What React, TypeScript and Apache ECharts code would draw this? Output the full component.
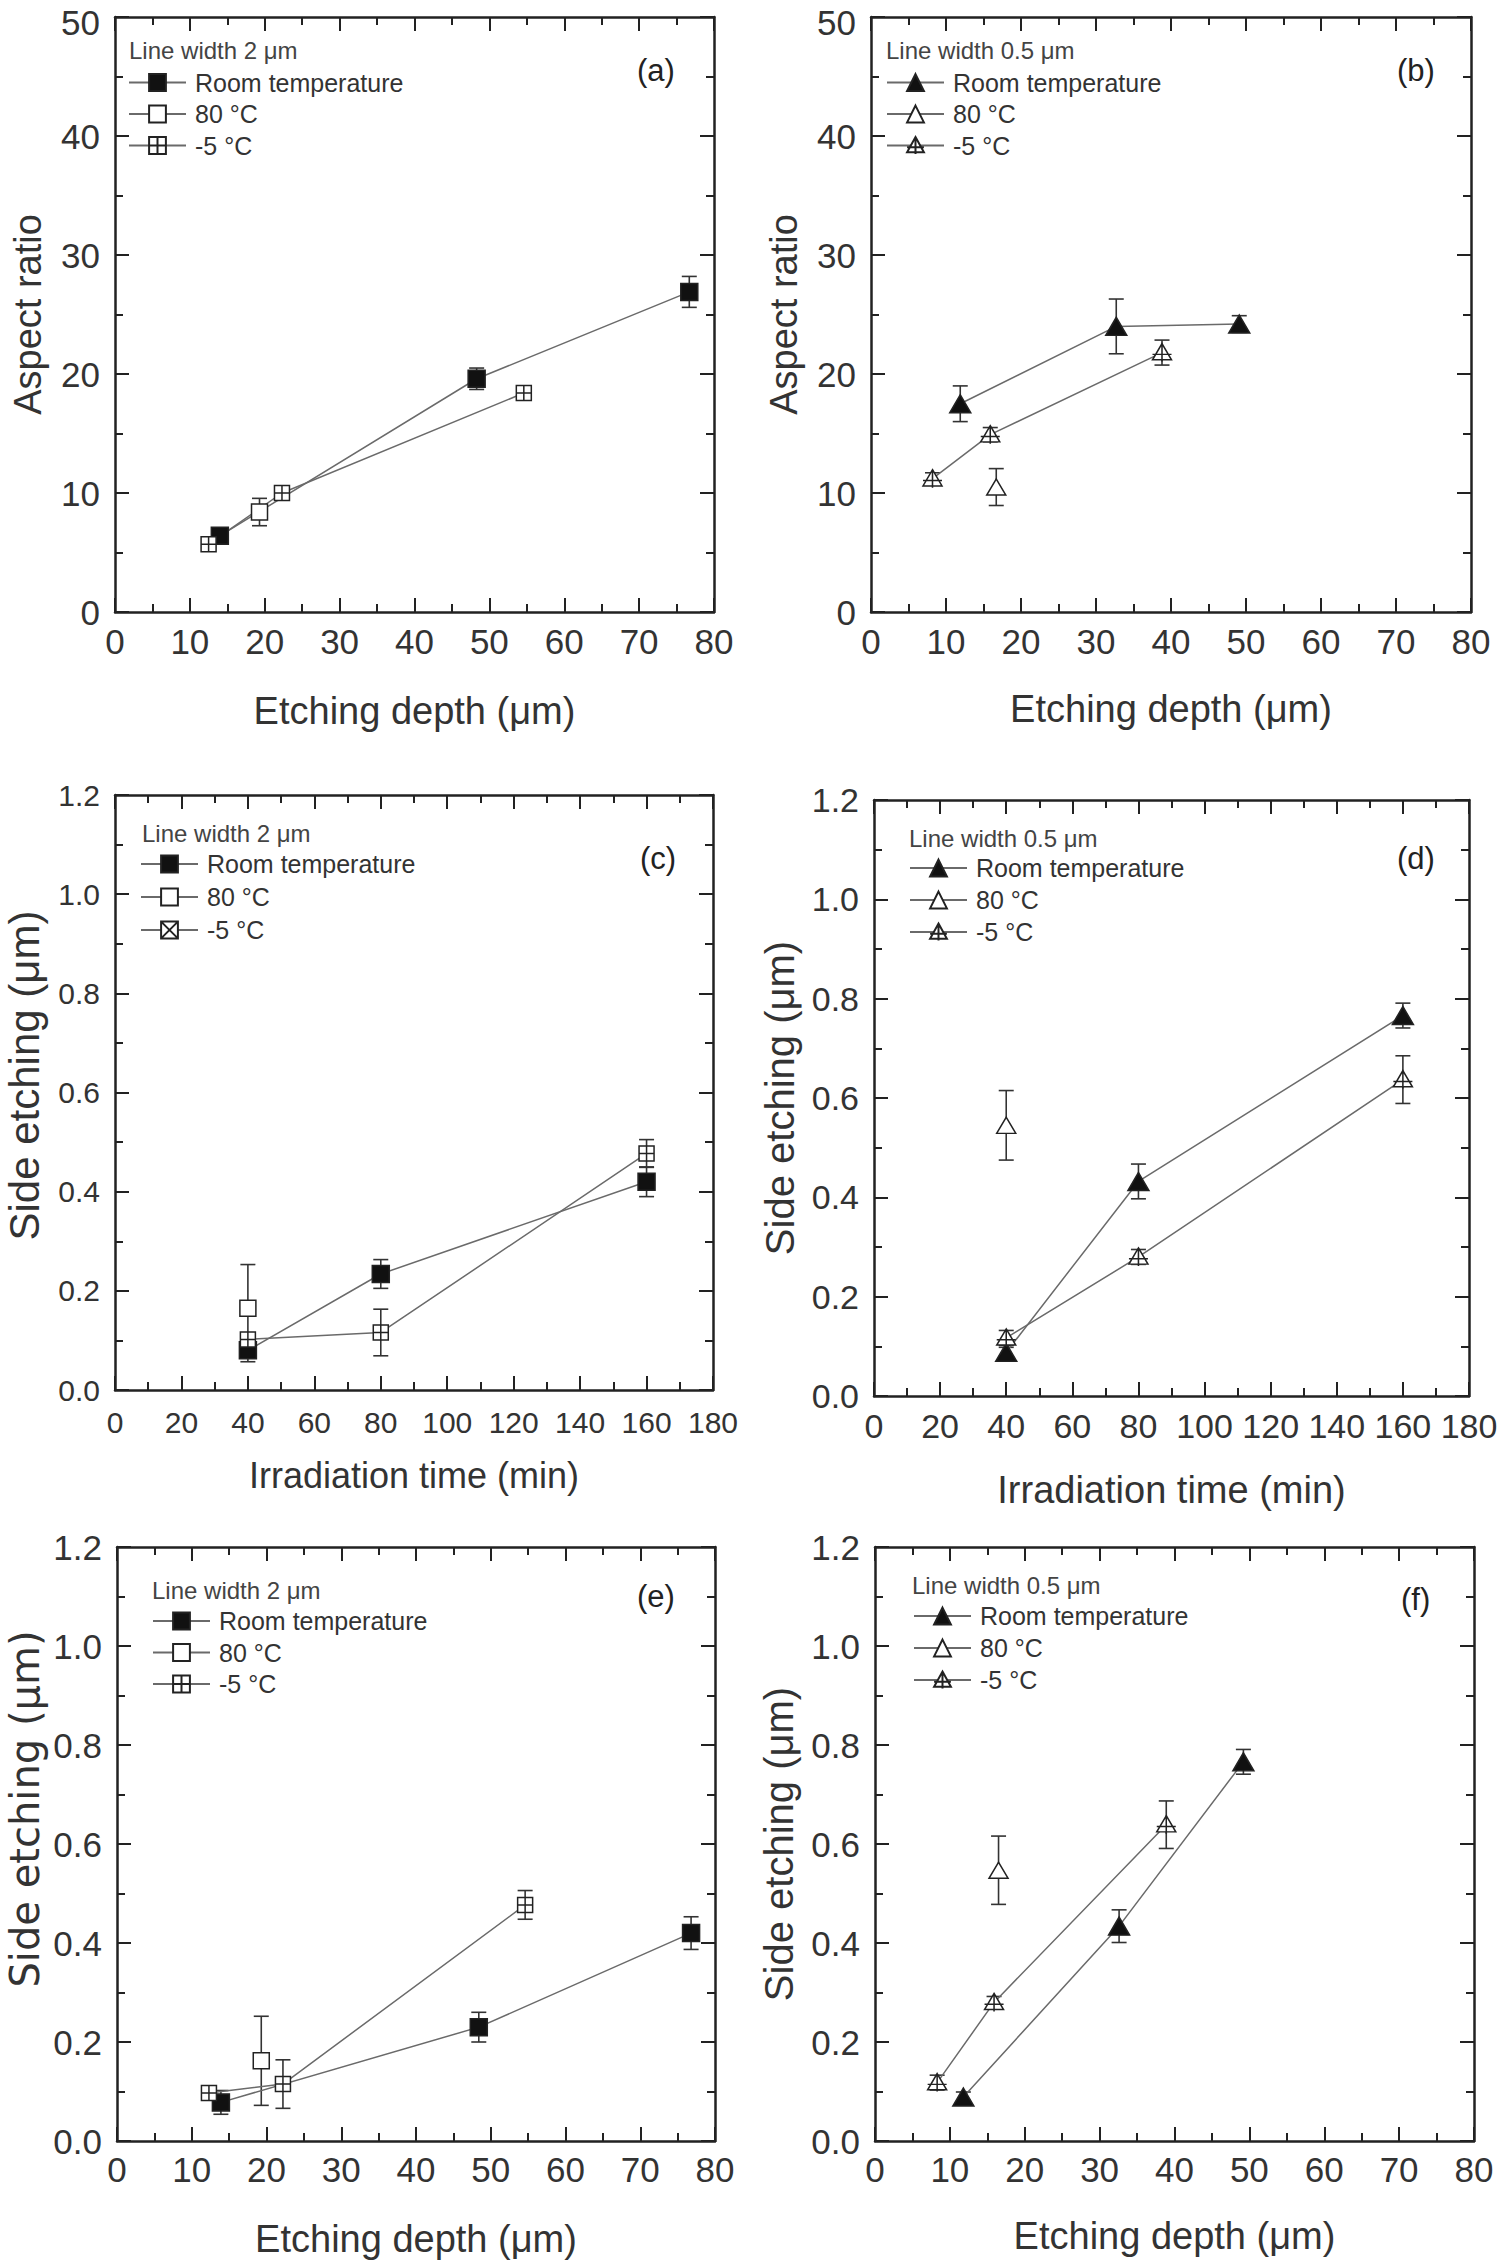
import React, { useEffect, useRef } from "react";
import * as echarts from "echarts";

type Pt = [number, number, number]; // [x, y, error]

// (a) Aspect ratio vs etching depth, line width 2 µm
const aRoom: Pt[] = [[14.0, 6.4, 0.3], [48.3, 19.6, 0.9], [76.7, 26.9, 1.3]];
const aHot: Pt[] = [[19.3, 8.4, 1.15]];
const aCold: Pt[] = [[12.5, 5.7, 0.3], [22.3, 10.0, 0.3], [54.6, 18.4, 0.3]];
// (b) Aspect ratio vs etching depth, line width 0.5 µm
const bRoom: Pt[] = [[11.9, 17.5, 1.5], [32.7, 24.0, 2.3], [49.1, 24.2, 0.7]];
const bHot: Pt[] = [[16.7, 10.5, 1.55]];
const bCold: Pt[] = [[8.2, 11.2, 0.5], [15.9, 14.9, 0.6], [38.8, 21.8, 1.05]];
// (c) Side etching vs irradiation time, line width 2 µm
const cRoom: Pt[] = [[40, 0.08, 0.023], [80, 0.234, 0.029], [160, 0.42, 0.03]];
const cHot: Pt[] = [[40, 0.165, 0.088]];
const cCold: Pt[] = [[40, 0.102, 0.01], [80, 0.116, 0.047], [160, 0.477, 0.028]];
// (d) Side etching vs irradiation time, line width 0.5 µm
const dRoom: Pt[] = [[40, 0.088, 0.01], [80, 0.432, 0.035], [160, 0.766, 0.025]];
const dHot: Pt[] = [[40, 0.545, 0.07]];
const dCold: Pt[] = [[40, 0.117, 0.015], [80, 0.28, 0.015], [160, 0.637, 0.048]];
// (e) Side etching vs etching depth, line width 2 µm
const eRoom: Pt[] = [[13.9, 0.078, 0.024], [48.4, 0.23, 0.03], [76.8, 0.42, 0.033]];
const eHot: Pt[] = [[19.3, 0.162, 0.09]];
const eCold: Pt[] = [[12.3, 0.097, 0.008], [22.2, 0.115, 0.049], [54.6, 0.477, 0.029]];
// (f) Side etching vs etching depth, line width 0.5 µm
const fRoom: Pt[] = [[11.8, 0.089, 0.01], [32.6, 0.434, 0.033], [49.2, 0.766, 0.025]];
const fHot: Pt[] = [[16.5, 0.547, 0.069]];
const fCold: Pt[] = [[8.3, 0.118, 0.015], [15.9, 0.28, 0.012], [38.9, 0.639, 0.048]];

const seriesNames = ["Room temperature", "80 °C", "-5 °C"];
const depthAxis = { min: 0, max: 80, interval: 10 };
const timeAxis = { min: 0, max: 180, interval: 20 };
const aspectAxis = { min: 0, max: 50, interval: 10 };
const sideAxis = { min: 0, max: 1.2, interval: 0.2 };

const FONT = "'Liberation Sans', Arial, Helvetica, sans-serif";
const WIDE_FONT = "'DejaVu Sans', 'Liberation Sans', sans-serif";
const INK = "#222";
const TXT = "#333";
const LINE = "#6a6a6a";

const SQ_PLUS = "path://M0,0H10V10H0Z M5,0V10 M0,5H10";
const SQ_X = "path://M0,0H10V10H0Z M0,0L10,10 M10,0L0,10";
const TRI_PLUS = "path://M5,0L10,9H0Z M5,0V10 M0,6H10";

type Style = { symbol: string; fill: string; size: number | number[]; pointSymbol?: string };
const squareStyles: Style[] = [
  { symbol: "rect", fill: "#111", size: 17 },
  { symbol: "rect", fill: "#fff", size: 16 },
  { symbol: SQ_PLUS, fill: "#fff", size: 15 },
];
const squareStylesC: Style[] = [
  { symbol: "rect", fill: "#111", size: 17 },
  { symbol: "rect", fill: "#fff", size: 16 },
  { symbol: SQ_X, fill: "#fff", size: 15, pointSymbol: SQ_PLUS },
];
const triStyles: Style[] = [
  { symbol: "triangle", fill: "#111", size: [21, 18] },
  { symbol: "triangle", fill: "#fff", size: [19, 16] },
  { symbol: TRI_PLUS, fill: "#fff", size: [19, 18] },
];

type Panel = {
  key: string;
  grid: { left: number; top: number; width: number; height: number };
  x: { min: number; max: number; interval: number };
  y: { min: number; max: number; interval: number };
  yFixed: boolean;
  xName: string;
  yName: string;
  xNameGap: number;
  yNameGap: number;
  yNameShift: number;
  yNameFont: string;
  xNameSize: number;
  yNameSize: number;
  tickSize: number;
  xMargin: number;
  topLabelDrop: number;
  header: string;
  headerPos: [number, number];
  tagPos: [number, number];
  legendPos: [number, number];
  legendGap: number;
  styles: Style[];
  data: Pt[][];
};

const panels: Panel[] = [
  {
    key: "a", grid: { left: 115, top: 17, width: 599, height: 595 }, x: depthAxis, y: aspectAxis, yFixed: false,
    xName: "Etching depth (μm)", yName: "Aspect ratio", xNameGap: 80, yNameGap: 68, yNameShift: 0, yNameFont: FONT,
    xNameSize: 38, yNameSize: 38, topLabelDrop: 10,
    tickSize: 35, xMargin: 12, header: "Line width 2 μm", headerPos: [129, 38], tagPos: [637, 55],
    legendPos: [128, 70], legendGap: 6.5, styles: squareStyles, data: [aRoom, aHot, aCold],
  },
  {
    key: "b", grid: { left: 871, top: 17, width: 600, height: 595 }, x: depthAxis, y: aspectAxis, yFixed: false,
    xName: "Etching depth (μm)", yName: "Aspect ratio", xNameGap: 78, yNameGap: 68, yNameShift: 0, yNameFont: FONT,
    xNameSize: 38, yNameSize: 38, topLabelDrop: 10,
    tickSize: 35, xMargin: 12, header: "Line width 0.5 μm", headerPos: [886, 38], tagPos: [1397, 55],
    legendPos: [886, 70], legendGap: 6.5, styles: triStyles, data: [bRoom, bHot, bCold],
  },
  {
    key: "c", grid: { left: 115, top: 795, width: 598, height: 595 }, x: timeAxis, y: sideAxis, yFixed: true,
    xName: "Irradiation time (min)", yName: "Side etching (μm)", xNameGap: 67, yNameGap: 70, yNameShift: 34, yNameFont: FONT,
    xNameSize: 36, yNameSize: 42, topLabelDrop: 0,
    tickSize: 30, xMargin: 17, header: "Line width 2 μm", headerPos: [142, 821], tagPos: [640, 843],
    legendPos: [140, 851.5], legendGap: 8, styles: squareStylesC, data: [cRoom, cHot, cCold],
  },
  {
    key: "d", grid: { left: 874, top: 800, width: 595, height: 596 }, x: timeAxis, y: sideAxis, yFixed: true,
    xName: "Irradiation time (min)", yName: "Side etching (μm)", xNameGap: 75, yNameGap: 74, yNameShift: 0, yNameFont: FONT,
    xNameSize: 38, yNameSize: 40, topLabelDrop: 0,
    tickSize: 34, xMargin: 13, header: "Line width 0.5 μm", headerPos: [909, 826], tagPos: [1397, 843],
    legendPos: [909, 855.5], legendGap: 7, styles: triStyles, data: [dRoom, dHot, dCold],
  },
  {
    key: "e", grid: { left: 117, top: 1547, width: 598, height: 594 }, x: depthAxis, y: sideAxis, yFixed: true,
    xName: "Etching depth (μm)", yName: "Side etching (μm)", xNameGap: 79, yNameGap: 72, yNameShift: 70, yNameFont: WIDE_FONT,
    xNameSize: 38, yNameSize: 40, topLabelDrop: 0,
    tickSize: 35, xMargin: 11, header: "Line width 2 μm", headerPos: [152, 1578], tagPos: [637, 1581],
    legendPos: [152, 1608.5], legendGap: 6.5, styles: squareStyles, data: [eRoom, eHot, eCold],
  },
  {
    key: "f", grid: { left: 875, top: 1547, width: 599, height: 594 }, x: depthAxis, y: sideAxis, yFixed: true,
    xName: "Etching depth (μm)", yName: "Side etching (μm)", xNameGap: 76, yNameGap: 76, yNameShift: 0, yNameFont: FONT,
    xNameSize: 38, yNameSize: 40, topLabelDrop: 0,
    tickSize: 35, xMargin: 11, header: "Line width 0.5 μm", headerPos: [912, 1573], tagPos: [1401, 1584],
    legendPos: [913, 1603.5], legendGap: 7, styles: triStyles, data: [fRoom, fHot, fCold],
  },
];

function buildOption() {
  const grids: any[] = [];
  const xAxes: any[] = [];
  const yAxes: any[] = [];
  const series: any[] = [];
  const legends: any[] = [];
  const titles: any[] = [];

  const tickStyle = { color: INK, width: 2 };
  const axisLine = { show: true, onZero: false, lineStyle: { color: INK, width: 2.5 } };

  panels.forEach((p, gi) => {
    grids.push({ ...p.grid, containLabel: false, outerBoundsMode: "none", show: false });

    const common = (r: { min: number; max: number; interval: number }) => ({
      type: "value",
      gridIndex: gi,
      min: r.min,
      max: r.max,
      interval: r.interval,
      axisLine,
      axisTick: { show: true, inside: true, length: 14, lineStyle: tickStyle },
      minorTick: { show: true, splitNumber: 2, length: 8, lineStyle: tickStyle },
      splitLine: { show: false },
      minorSplitLine: { show: false },
    });

    xAxes.push({
      ...common(p.x),
      position: "bottom",
      name: p.xName,
      nameLocation: "middle",
      nameGap: p.xNameGap,
      nameTextStyle: { fontSize: p.xNameSize, lineHeight: p.xNameSize, color: TXT, fontFamily: FONT },
      axisLabel: {
        show: true, margin: p.xMargin, fontSize: p.tickSize, color: TXT, fontFamily: FONT,
        showMinLabel: true, showMaxLabel: true,
      },
    });
    xAxes.push({ ...common(p.x), position: "top", axisLabel: { show: false } });

    const fmtY = (v: number) => (p.yFixed ? v.toFixed(1) : String(v));
    yAxes.push({
      ...common(p.y),
      position: "left",
      name: p.yName,
      nameLocation: "middle",
      nameGap: p.yNameGap,
      nameTextStyle: {
        fontSize: p.yNameSize, lineHeight: p.yNameSize, color: TXT, fontFamily: p.yNameFont,
        padding: [0, 0, 0, p.yNameShift],
      },
      axisLabel: {
        show: true, margin: 15, fontSize: p.tickSize, lineHeight: 30, color: TXT, fontFamily: FONT,
        showMinLabel: true, showMaxLabel: true,
        formatter: (v: number) =>
          p.topLabelDrop > 0 && Math.abs(v - p.y.max) < 1e-9 ? `{top|${fmtY(v)}}` : fmtY(v),
        rich: {
          top: {
            fontSize: p.tickSize, lineHeight: 30, color: TXT, fontFamily: FONT,
            padding: [p.topLabelDrop, 0, 0, 0],
          },
        },
      },
    });
    yAxes.push({ ...common(p.y), position: "right", axisLabel: { show: false } });

    const xi = gi * 2;
    const yi = gi * 2;
    const legendData: string[] = [];

    p.data.forEach((pts, si) => {
      const st = p.styles[si];
      const name = `${p.key}::${seriesNames[si]}`;
      legendData.push(name);
      // error bars
      series.push({
        type: "custom",
        xAxisIndex: xi,
        yAxisIndex: yi,
        silent: true,
        z: 2,
        data: pts,
        encode: { x: 0, y: 1 },
        renderItem: (_params: any, api: any) => {
          const x = api.value(0);
          const y = api.value(1);
          const e = api.value(2);
          const t = api.coord([x, y + e]);
          const b = api.coord([x, y - e]);
          const hw = 7.5;
          const style = { stroke: "#333", lineWidth: 1.6 };
          return {
            type: "group",
            children: [
              { type: "line", shape: { x1: t[0], y1: t[1], x2: b[0], y2: b[1] }, style },
              { type: "line", shape: { x1: t[0] - hw, y1: t[1], x2: t[0] + hw, y2: t[1] }, style },
              { type: "line", shape: { x1: b[0] - hw, y1: b[1], x2: b[0] + hw, y2: b[1] }, style },
            ],
          };
        },
      });
      // markers + connecting line
      series.push({
        type: "line",
        name,
        xAxisIndex: xi,
        yAxisIndex: yi,
        z: 3,
        symbol: st.symbol,
        symbolSize: st.size,
        showSymbol: true,
        showAllSymbol: true,
        data: pts.map((q) =>
          st.pointSymbol ? { value: [q[0], q[1]], symbol: st.pointSymbol } : [q[0], q[1]]
        ),
        lineStyle: { color: LINE, width: 1.5 },
        itemStyle: { color: st.fill, borderColor: INK, borderWidth: 1.5 },
        emphasis: { disabled: true },
      });
    });

    legends.push({
      orient: "vertical",
      left: p.legendPos[0],
      top: p.legendPos[1],
      padding: 0,
      itemGap: p.legendGap,
      itemWidth: 57,
      itemHeight: 21,
      selectedMode: false,
      data: legendData,
      formatter: (n: string) => n.split("::")[1],
      textStyle: { fontSize: 25, color: TXT, fontFamily: FONT, padding: [0, 0, 0, 4] },
    });

    titles.push({
      text: p.header,
      left: p.headerPos[0],
      top: p.headerPos[1],
      padding: 0,
      textStyle: { fontSize: 24, fontWeight: "normal", color: "#444", fontFamily: FONT },
    });
    titles.push({
      text: `(${p.key})`,
      left: p.tagPos[0],
      top: p.tagPos[1],
      padding: 0,
      textStyle: { fontSize: 31, fontWeight: "normal", color: "#222", fontFamily: FONT },
    });
  });

  return {
    animation: false,
    backgroundColor: "#fff",
    textStyle: { fontFamily: FONT },
    title: titles,
    legend: legends,
    grid: grids,
    xAxis: xAxes,
    yAxis: yAxes,
    series,
  };
}

export default function App() {
  const ref = useRef<HTMLDivElement>(null);
  useEffect(() => {
    if (!ref.current) return;
    const chart = echarts.init(ref.current, null, { renderer: "svg" });
    chart.setOption(buildOption() as any);
    return () => chart.dispose();
  }, []);
  return (
    <div
      ref={ref}
      style={{ position: "absolute", left: 0, top: 0, width: 1500, height: 2260, background: "#fff" }}
    />
  );
}
